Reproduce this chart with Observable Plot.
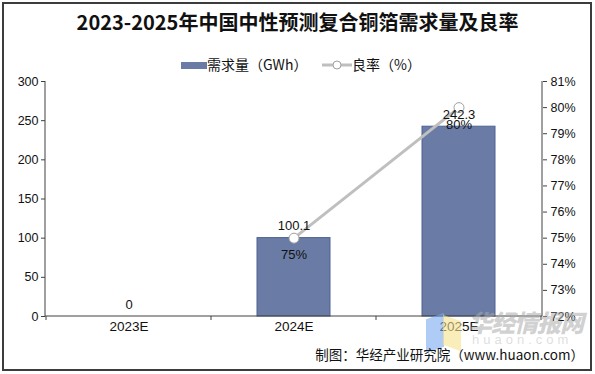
<!DOCTYPE html>
<html><head><meta charset="utf-8">
<script src="https://cdn.jsdelivr.net/npm/d3@7"></script>
<script src="https://cdn.jsdelivr.net/npm/@observablehq/plot@0.6"></script>
<style>
body{margin:0;background:#fff;}
#wrap{position:relative;width:595px;height:374px;overflow:hidden;background:#fff;font-family:"Liberation Sans",Arial,sans-serif;}
#frame{position:absolute;left:2px;top:2px;width:590px;height:369px;border:2px solid #3c3c3c;box-sizing:border-box;}
#title{position:absolute;left:0;top:8px;width:595px;text-align:center;font-family:"Noto Sans CJK SC",sans-serif;font-weight:700;font-size:20px;line-height:28px;color:#111;}
#legend{position:absolute;top:54px;left:0;width:595px;height:20px;font-family:"Noto Sans CJK SC",sans-serif;font-size:14px;color:#111;}
.li{position:absolute;top:0;line-height:20px;white-space:nowrap;}
#chart{position:absolute;left:0;top:72px;}
#caption{position:absolute;right:11px;top:344px;font-family:"Noto Sans CJK SC",sans-serif;font-size:13.5px;line-height:20px;color:#111;white-space:nowrap;}
#wm{position:absolute;left:468px;top:307px;font-family:"Noto Sans CJK SC",sans-serif;font-weight:900;font-size:24px;line-height:30px;color:rgba(170,170,170,0.55);font-style:italic;letter-spacing:-1px;}
#wm2{position:absolute;left:472px;top:333px;font-family:"Liberation Sans",sans-serif;font-size:13px;line-height:14px;color:rgba(190,190,190,0.5);letter-spacing:4px;}
#lb{position:absolute;left:426px;top:316px;width:18px;height:34px;background:rgba(120,170,240,0.6);transform:skewY(-20deg);}
#ly{position:absolute;left:443px;top:318px;width:18px;height:30px;background:rgba(245,225,140,0.6);transform:skewY(20deg);}
</style></head><body>
<div id="wrap">
  <div id="frame"></div>
  <div id="title"></div>
  <div id="legend"></div>
  <div id="chart"></div>
  <div id="lb"></div><div id="ly"></div>
  <div id="wm">华经情报网</div>
  <div id="wm2">huaon.com</div>
  <div id="caption"></div>
</div>
<script>
// ---- data ----
const titleText = "2023-2025年中国中性预测复合铜箔需求量及良率";
const captionText = "制图：华经产业研究院（www.huaon.com）";
const seriesNames = ["需求量（GWh）", "良率（%）"];
const categories = ["2023E", "2024E", "2025E"];
const demand = [0, 100.1, 242.3];
const rateCategories = ["2024E", "2025E"];
const rate = [75, 80];
const demandTicks = [0, 50, 100, 150, 200, 250, 300];
const rateTicks = [72, 73, 74, 75, 76, 77, 78, 79, 80, 81];

// ---- styles ----
const barFill = "#6A7CA5", barStroke = "#4E6392";
const lineColor = "#BFBFBF", dotStroke = "#A0A0A0";
const axisColor = "#404040";

document.getElementById("title").textContent = titleText;
document.getElementById("caption").textContent = captionText;

const legend = document.getElementById("legend");
legend.innerHTML =
  `<div class="li" style="left:181px"><span style="display:inline-block;width:26px;height:7px;background:${barFill};vertical-align:middle;margin-top:-2px"></span>${seriesNames[0]}</div>` +
  `<div class="li" style="left:322px"><svg width="30" height="20" style="vertical-align:middle;margin-top:-2px"><line x1="0" x2="30" y1="10" y2="10" stroke="${lineColor}" stroke-width="3"/><circle cx="15" cy="10" r="4" fill="white" stroke="${dotStroke}"/></svg>${seriesNames[1]}</div>`;

const rMin = rateTicks[0], rMax = rateTicks[rateTicks.length - 1];
const dMax = demandTicks[demandTicks.length - 1];
const rateToY = r => (r - rMin) / (rMax - rMin) * dMax;

const demandData = categories.map((c, i) => ({cat: c, v: demand[i]}));
const rateData = rateCategories.map((c, i) => ({cat: c, r: rate[i], y: rateToY(rate[i])}));

const frameMark = (index, scales, values, dims) => {
  const {x, y} = scales;
  const g = d3.create("svg:g").attr("stroke", axisColor).attr("fill", "none");
  const l = dims.marginLeft, r = dims.width - dims.marginRight;
  const t = dims.marginTop, b = dims.height - dims.marginBottom;
  g.append("line").attr("x1", l).attr("x2", l).attr("y1", t).attr("y2", b);
  g.append("line").attr("x1", r).attr("x2", r).attr("y1", t).attr("y2", b);
  g.append("line").attr("x1", l).attr("x2", r).attr("y1", y(0)).attr("y2", y(0));
  const step = x.step(), bw = x.bandwidth();
  const bounds = x.domain().map(c => x(c) - (step - bw) / 2);
  bounds.push(x(x.domain()[x.domain().length - 1]) + bw + (step - bw) / 2);
  for (const bx of bounds) g.append("line").attr("x1", bx).attr("x2", bx).attr("y1", y(0)).attr("y2", y(0) + 4);
  return g.node();
};

const chart = Plot.plot({
  width: 595,
  height: 270,
  marginLeft: 45,
  marginRight: 53,
  marginTop: 9,
  marginBottom: 26,
  style: {fontFamily: "'Liberation Sans', Arial, sans-serif", fontSize: "12px", color: "#111", background: "transparent"},
  x: {domain: categories, paddingInner: 0.56, paddingOuter: 0.28, label: null},
  y: {domain: [0, dMax], label: null},
  marks: [
    Plot.barY(demandData, {x: "cat", y: "v", fill: barFill, stroke: barStroke, strokeWidth: 1}),
    frameMark,
    Plot.axisY({anchor: "left", ticks: demandTicks, tickSize: 4, tickPadding: 3, label: null, fontSize: 12.5, stroke: axisColor}),
    Plot.axisY({anchor: "right", ticks: rateTicks.map(rateToY), tickFormat: d => Math.round(d / dMax * (rMax - rMin) + rMin) + "%", tickSize: 4, tickPadding: 4, label: null, fontSize: 12.5, stroke: axisColor}),
    Plot.axisX({tickSize: 0, tickPadding: 5, label: null, fontSize: 13.5}),
    Plot.line(rateData, {x: "cat", y: "y", stroke: lineColor, strokeWidth: 3}),
    Plot.dot(rateData, {x: "cat", y: "y", r: 5, fill: "white", stroke: dotStroke, strokeWidth: 1}),
    Plot.text(demandData, {x: "cat", y: "v", text: d => String(d.v), dy: -12, fontSize: 13, fill: "#111"}),
    Plot.text(rateData, {x: "cat", y: "y", text: d => d.r + "%", dy: 17, fontSize: 13, fill: "#111"})
  ]
});
document.getElementById("chart").appendChild(chart);
</script>
</body></html>
